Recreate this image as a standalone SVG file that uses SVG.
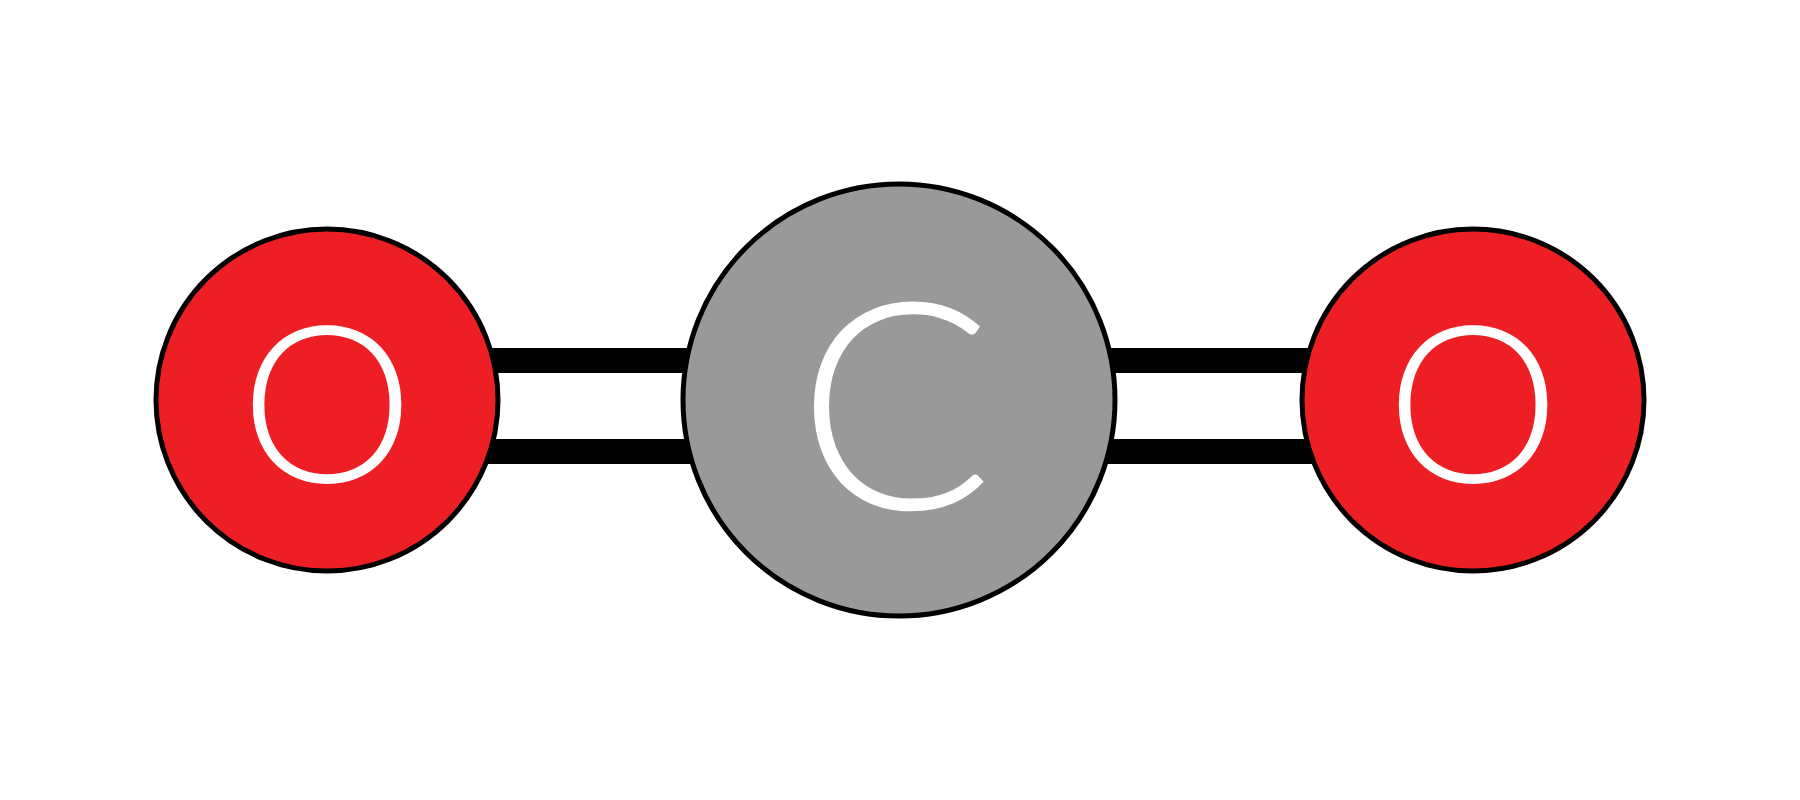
<svg xmlns="http://www.w3.org/2000/svg" width="1800" height="800" viewBox="0 0 1800 800">
<style>
.o{fill:#ed1f24;stroke:#000;stroke-width:5}
.c{fill:#999;stroke:#000;stroke-width:5}
.t{fill:#fff;font-family:Lato,"Liberation Sans",sans-serif;font-weight:300;text-anchor:middle;dominant-baseline:central}
</style>
<rect width="1800" height="800" fill="#fff"/>
<g id="connectors">
<rect x="327" y="348" width="1146" height="25" fill="#000"/>
<rect x="327" y="439" width="1146" height="25" fill="#000"/>
</g>
<g id="O1"><circle class="o" cx="327" cy="400" r="171"/><text class="t" x="327" y="397" font-size="220">O</text></g>
<g id="C"><circle class="c" cx="899" cy="400" r="216"/><text class="t" x="895" y="397" font-size="290">C</text></g>
<g id="O2"><circle class="o" cx="1473" cy="400" r="171"/><text class="t" x="1473" y="397" font-size="220">O</text></g>
</svg>
